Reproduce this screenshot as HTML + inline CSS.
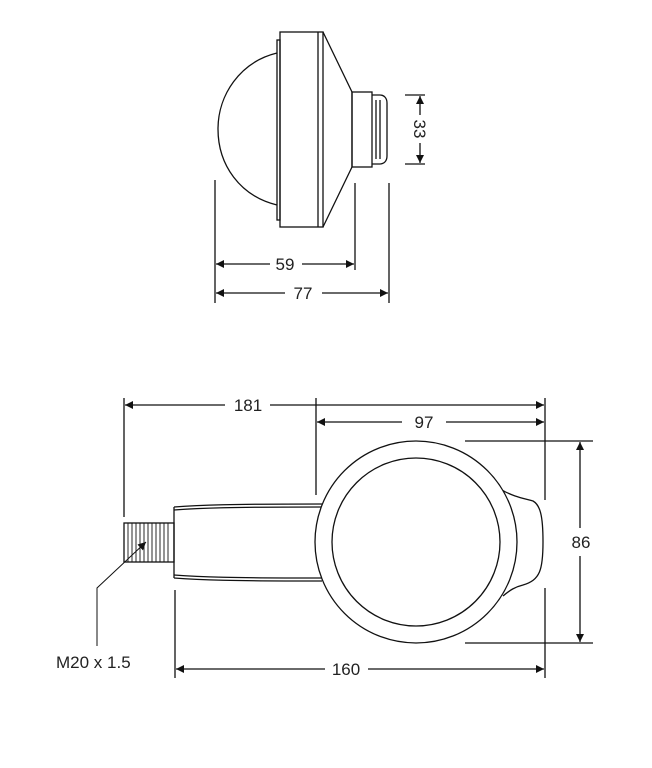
<!DOCTYPE html>
<html><head><style>
html,body{margin:0;padding:0;background:#fff;}
svg{display:block;}
text{font-family:"Liberation Sans",sans-serif;font-size:17px;fill:#222;}
</style></head><body>
<svg width="652" height="768" viewBox="0 0 652 768" xmlns="http://www.w3.org/2000/svg">
<defs>
<marker id="a" viewBox="0 0 10 10" refX="10" refY="5" markerWidth="10" markerHeight="8" orient="auto-start-reverse" markerUnits="userSpaceOnUse"><path d="M0,0 L10,5 L0,10 z" fill="#111"/></marker>
</defs>
<g fill="none" stroke="#111" stroke-width="1.3">
<!-- top view -->
<path d="M277,53 C240,62 218,95 218,129 C218,165 240,196 277,205" />
<rect x="277" y="40" width="3" height="180"/>
<rect x="280" y="32" width="43" height="195"/>
<line x1="318" y1="32" x2="318" y2="227"/>
<path d="M323,32 L352,92 L352,167 L323,227"/>
<rect x="352" y="92" width="20" height="75"/>
<path d="M372,95 L380,95 C384,95 387,98 387,103 L387,156 C387,161 384,164 380,164 L372,164"/>
<line x1="376" y1="100" x2="376" y2="159"/>
<line x1="380" y1="100" x2="380" y2="159"/>
<!-- 33 -->
<line x1="405" y1="95" x2="425" y2="95"/>
<line x1="405" y1="164" x2="425" y2="164"/>
<line x1="420" y1="115" x2="420" y2="96" marker-end="url(#a)"/>
<line x1="420" y1="143" x2="420" y2="163" marker-end="url(#a)"/>
<!-- ext lines -->
<line x1="215" y1="180" x2="215" y2="303"/>
<line x1="355" y1="183" x2="355" y2="270"/>
<line x1="389" y1="183" x2="389" y2="303"/>
<line x1="270" y1="264" x2="216" y2="264" marker-end="url(#a)"/>
<line x1="302" y1="264" x2="354" y2="264" marker-end="url(#a)"/>
<line x1="285" y1="293" x2="216" y2="293" marker-end="url(#a)"/>
<line x1="322" y1="293" x2="388" y2="293" marker-end="url(#a)"/>

<!-- bottom view -->
<line x1="124" y1="398" x2="124" y2="517"/>
<line x1="316" y1="398" x2="316" y2="495"/>
<line x1="545" y1="398" x2="545" y2="500"/>
<line x1="225" y1="405" x2="125" y2="405" marker-end="url(#a)"/>
<line x1="270" y1="405" x2="544" y2="405" marker-end="url(#a)"/>
<line x1="402" y1="422" x2="317" y2="422" marker-end="url(#a)"/>
<line x1="446" y1="422" x2="544" y2="422" marker-end="url(#a)"/>
<!-- thread -->
<rect x="124" y="523" width="50" height="39"/>
<g stroke-width="0.9">
<line x1="128" y1="523" x2="128" y2="562"/><line x1="132" y1="523" x2="132" y2="562"/><line x1="136" y1="523" x2="136" y2="562"/><line x1="140" y1="523" x2="140" y2="562"/><line x1="144" y1="523" x2="144" y2="562"/><line x1="148" y1="523" x2="148" y2="562"/><line x1="152" y1="523" x2="152" y2="562"/><line x1="156" y1="523" x2="156" y2="562"/><line x1="160" y1="523" x2="160" y2="562"/><line x1="164" y1="523" x2="164" y2="562"/><line x1="168" y1="523" x2="168" y2="562"/>
</g>
<!-- body -->
<path d="M174,507 L174,578"/>
<path d="M174,507 C200,505 230,504 322,504"/>
<path d="M174,510 C200,508 230,507 322,507"/>
<path d="M174,578 C200,580 230,581 322,581"/>
<path d="M174,575 C200,577 230,578 322,578"/>
<!-- lug -->
<path d="M502,490 C512,496 522,498 533,501 C540,505 543,515 543,542 C543,570 540,580 523,585 C515,587 510,590 503,596" fill="#fff"/>
<circle cx="416" cy="542" r="101" fill="#fff"/>
<circle cx="416" cy="542" r="84"/>
<!-- 86 -->
<line x1="465" y1="441" x2="593" y2="441"/>
<line x1="465" y1="643" x2="593" y2="643"/>
<line x1="580" y1="528" x2="580" y2="442" marker-end="url(#a)"/>
<line x1="580" y1="556" x2="580" y2="642" marker-end="url(#a)"/>
<!-- 160 -->
<line x1="175" y1="590" x2="175" y2="678"/>
<line x1="545" y1="588" x2="545" y2="678"/>
<line x1="325" y1="669" x2="176" y2="669" marker-end="url(#a)"/>
<line x1="368" y1="669" x2="544" y2="669" marker-end="url(#a)"/>
<!-- leader -->
<path d="M97,646 L97,588 L146,542" stroke-width="1" marker-end="url(#a)"/>
</g>
<text x="285" y="270" text-anchor="middle">59</text>
<text x="303" y="299" text-anchor="middle">77</text>
<text transform="translate(414,129) rotate(90)" text-anchor="middle">33</text>
<text x="248" y="411" text-anchor="middle">181</text>
<text x="424" y="428" text-anchor="middle">97</text>
<text x="581" y="548" text-anchor="middle">86</text>
<text x="346" y="675" text-anchor="middle">160</text>
<text x="56" y="668">M20 x 1.5</text>
</svg>
</body></html>
